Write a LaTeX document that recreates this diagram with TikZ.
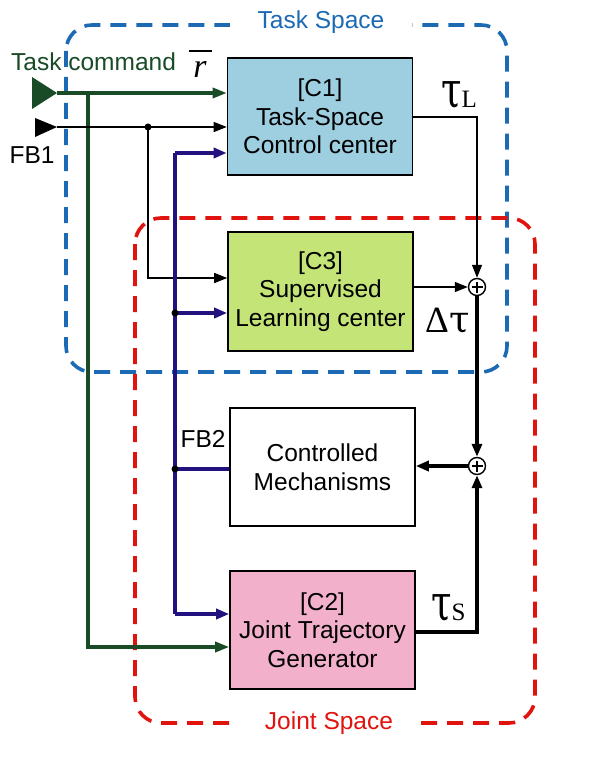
\documentclass[tikz,border=0pt]{standalone}
\usepackage{fontspec}
\setmainfont{Liberation Sans}
\newfontfamily\seriffont{Liberation Serif}
\newfontfamily\taufont{DejaVu Serif}
\usetikzlibrary{arrows.meta,calc}
\definecolor{tsblue}{HTML}{1B6AB3}
\definecolor{jsred}{HTML}{E0130F}
\definecolor{tcgreen}{HTML}{184B26}
\definecolor{fbnavy}{HTML}{21127F}
\definecolor{cone}{HTML}{9ECFE0}
\definecolor{cthree}{HTML}{C4E477}
\definecolor{ctwo}{HTML}{F2B0CB}
\tikzset{
  x=1pt,y=-1pt,
  boxnode/.style={draw=black,line width=1.6pt,minimum width=185pt,minimum height=118pt,align=center,
    font=\fontsize{24.5}{28.5}\selectfont,inner sep=0pt},
  spacebox/.style={line width=3.6pt,rounded corners=26pt,dash pattern=on 16pt off 10pt},
  spacelabel/.style={fill=white,inner xsep=28pt,inner ysep=2pt,font=\fontsize{24.5}{28}\selectfont},
  thinline/.style={draw=black,line width=1.3pt},
  thinarrow/.style={thinline,-{Triangle[length=13pt,width=10pt]}},
  thickline/.style={draw=black,line width=3.8pt},
  thickarrow/.style={thickline,-{Triangle[length=13pt,width=10pt]}},
  greenline/.style={draw=tcgreen,line width=3.2pt},
  greenarrow/.style={greenline,-{Triangle[length=14pt,width=10pt]}},
  navyline/.style={draw=fbnavy,line width=3.4pt},
  navyarrow/.style={navyline,-{Triangle[length=13pt,width=10pt]}},
  sumnode/.style={circle,draw=black,line width=1.4pt,minimum size=17pt,inner sep=0pt,fill=white,
    path picture={\draw[line width=1.2pt] (path picture bounding box.center) ++(-5.5,0) -- ++(11,0)
      (path picture bounding box.center) ++(0,-5.5) -- ++(0,11);}},
  dotnode/.style={circle,fill=black,minimum size=7pt,inner sep=0pt},
  txt/.style={font=\fontsize{24.5}{28}\selectfont,inner sep=0pt},
  taunode/.style={inner sep=0pt,font=\taufont\fontsize{37}{37}\selectfont}
}
\begin{document}
\begin{tikzpicture}
\useasboundingbox (0,0) rectangle (593,757);
% spaces
\draw[spacebox,draw=tsblue] (66,25) rectangle (507,372);
\node[spacelabel,text=tsblue] (tslabel) at (321,22) {Task Space};
\draw[spacebox,draw=jsred] (135,218) rectangle (535,723);
\node[spacelabel,text=jsred] (jslabel) at (329,723) {Joint Space};
% blocks
\node[boxnode,fill=cone,minimum height=117pt] (c1) at (320,116.5) {[C1]\\Task-Space\\Control center};
\node[boxnode,fill=cthree,minimum height=119pt] (c3) at (320.5,291.5) {[C3]\\Supervised\\Learning center};
\node[boxnode,fill=white] (cm) at (322.5,467) {Controlled\\Mechanisms};
\node[boxnode,fill=ctwo] (c2) at (322.5,630) {[C2]\\Joint Trajectory\\Generator};
% sums
\node[sumnode] (s1) at (477,287) {};
\node[sumnode] (s2) at (477,466) {};
% inputs
\coordinate (tcin) at (57,93);
\coordinate (fbin) at (57,127);
\fill[tcgreen] (32,77) -- (tcin) -- (32,109) -- cycle;
\fill[black] (35,118) -- (fbin) -- (35,137) -- cycle;
\node[txt,text=tcgreen,anchor=west] (tclabel) at (11,62) {Task command};
\node[inner sep=0pt,anchor=base,font=\seriffont\itshape\fontsize{34}{34}\selectfont] (rbar) at (200,78) {r};
\draw[line width=1.6pt] (189,51) -- (212,51);
\node[txt] (fb1label) at (32,155) {FB1};
\node[txt] (fb2label) at (203,439) {FB2};
% task command (green)
\coordinate (gj) at (88,93);
\coordinate (gb) at (88,647);
\draw[greenarrow] (tcin) -- (tcin -| c1.west);
\draw[greenarrow] (gj) -- (gb) -- (gb -| c2.west);
% FB1 (black)
\coordinate (fj) at (148,127);
\coordinate (fb) at (148,278);
\draw[thinarrow] (fbin) -- (fbin -| c1.west);
\draw[thinarrow] (fj) -- (fb) -- (fb -| c3.west);
\node[dotnode] (fjdot) at (fj) {};
% FB2 (navy)
\coordinate (nt) at (175,153);
\coordinate (nm) at (175,313);
\coordinate (nf) at (175,469);
\coordinate (nb) at (175,614);
\draw[navyline] (nf -| cm.west) -- (nf);
\draw[navyarrow] (nt) -- (nt -| c1.west);
\draw[navyline] (nt) -- (nb);
\draw[navyarrow] (nb) -- (nb -| c2.west);
\draw[navyarrow] (nm) -- (nm -| c3.west);
\node[dotnode] (nmdot) at (nm) {};
\node[dotnode] (nfdot) at (nf) {};
% outputs
\coordinate (tl) at (477,117);
\draw[thinarrow] (tl -| c1.east) -- (tl) -- (s1.north);
\draw[thinarrow] (s1 -| c3.east) -- (s1.west);
\draw[thickarrow] (s1.south) -- (s2.north);
\draw[thickarrow] (s2.west) -- (s2 -| cm.east);
\coordinate (ts) at (477,632);
\draw[thickarrow] (ts -| c2.east) -- (ts) -- (s2.south);
% torque labels
\node[taunode,anchor=base west] (taul) at (441,107) {\scalebox{1}[1.35]{τ}{\seriffont\fontsize{25}{25}\selectfont L}};
\node[taunode,anchor=base west] (taus) at (431,620) {\scalebox{1}[1.35]{τ}{\seriffont\fontsize{25}{25}\selectfont S}};
\node[taunode,anchor=base west] (dtau) at (425,332) {{\seriffont Δ}τ};
\end{tikzpicture}
\end{document}
